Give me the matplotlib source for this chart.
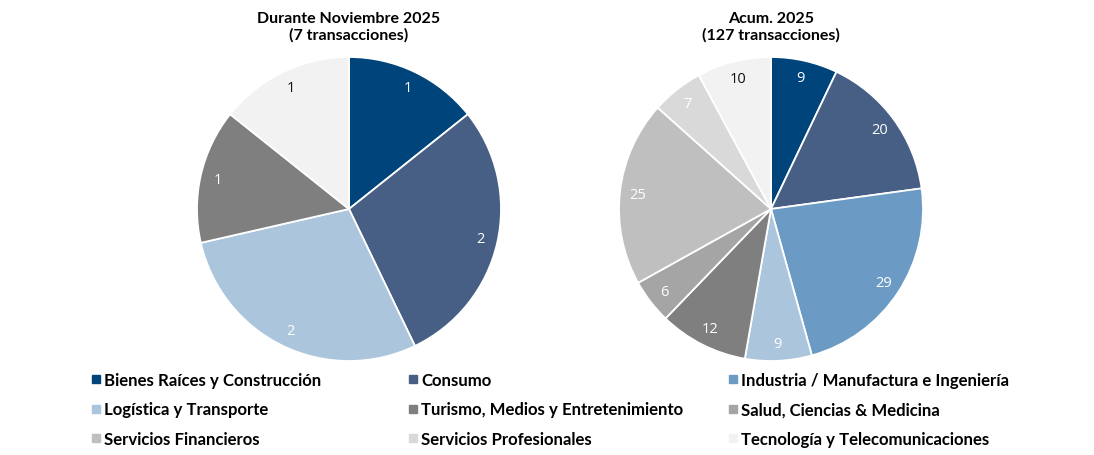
import matplotlib
matplotlib.use("Agg")
import math
import matplotlib.pyplot as plt
from matplotlib.lines import Line2D

categories = [
    "Bienes Raíces y Construcción",
    "Consumo",
    "Industria / Manufactura e Ingeniería",
    "Logística y Transporte",
    "Turismo, Medios y Entretenimiento",
    "Salud, Ciencias & Medicina",
    "Servicios Financieros",
    "Servicios Profesionales",
    "Tecnología y Telecomunicaciones",
]
colors = ["#00447C", "#475F84", "#6B9AC4", "#ABC5DD", "#7F7F7F",
          "#A5A5A5", "#BFBFBF", "#D9D9D9", "#F2F2F2"]
label_colors = ["white"] * 8 + ["#111111"]

nov_values = [1, 2, 0, 2, 1, 0, 0, 0, 1]
acum_values = [9, 20, 29, 9, 12, 6, 25, 7, 10]

titles = ["Durante Noviembre 2025\n(7 transacciones)", "Acum. 2025\n(127 transacciones)"]

W, H = 1094, 456
fig = plt.figure(figsize=(W / 100, H / 100), dpi=100)
fig.patch.set_facecolor("white")

title_font = "Lato"
num_font = "Open Sans"


def draw_pie(cx, cy, r, values, title):
    pad = 1.02
    ax = fig.add_axes([(cx - r * pad) / W, (H - cy - r * pad) / H, 2 * r * pad / W, 2 * r * pad / H])
    idx = [i for i, v in enumerate(values) if v > 0]
    vals = [values[i] for i in idx]
    cols = [colors[i] for i in idx]
    ax.pie(vals, colors=cols, startangle=90, counterclock=False,
           wedgeprops=dict(edgecolor="white", linewidth=1.3))
    total = sum(vals)
    start = 90.0
    for k, v in enumerate(vals):
        ang = start - 360.0 * v / total / 2
        start -= 360.0 * v / total
        x = 0.885 * math.cos(math.radians(ang))
        y = 0.885 * math.sin(math.radians(ang))
        ax.text(x, y, str(v), ha="center", va="center", fontsize=10.5,
                family=num_font, color=label_colors[idx[k]])
    ax.set_xlim(-pad, pad)
    ax.set_ylim(-pad, pad)
    ax.set_aspect("equal")
    ax.axis("off")
    fig.text(cx / W, (H - 27) / H, title, ha="center", va="center", fontsize=11.5,
             fontweight="bold", family=title_font, linespacing=1.15)


draw_pie(349, 210, 152, nov_values, titles[0])
draw_pie(771, 210, 152, acum_values, titles[1])

handles = [Line2D([0], [0], marker="s", linestyle="none", markersize=6,
                  markerfacecolor=c, markeredgecolor=c) for c in colors]
col_x = [91, 408, 728]
for c in range(3):
    hs = handles[c::3]
    ls = categories[c::3]
    fig.legend(hs, ls, loc="upper left", bbox_to_anchor=(col_x[c] / W, (H - 373) / H),
               frameon=False, handlelength=0.6, handletextpad=0.2,
               labelspacing=0.8, borderaxespad=0, borderpad=0,
               prop=dict(family=title_font, weight="bold", size=12.1))

fig.savefig("out.png", dpi=100, facecolor="white")
